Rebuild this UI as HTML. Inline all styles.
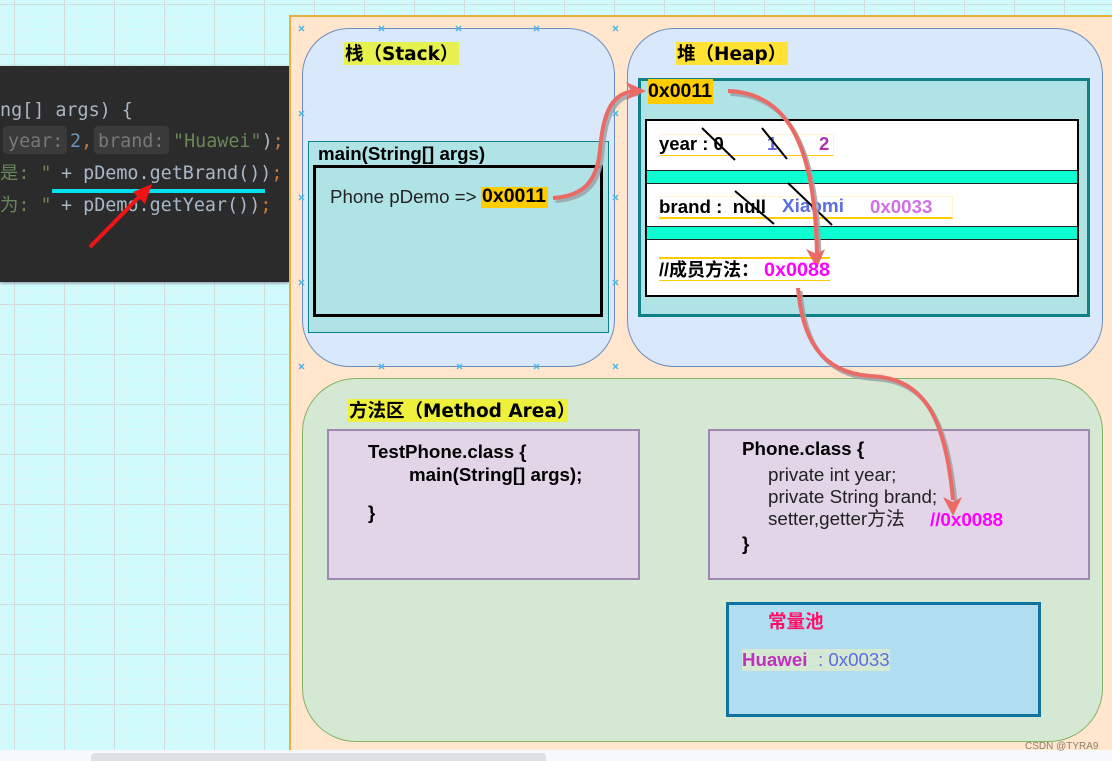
<!DOCTYPE html>
<html><head><meta charset="utf-8"><style>
html,body{margin:0;padding:0;width:1112px;height:761px;overflow:hidden;background:#fff}
#r{position:relative;width:1112px;height:761px;overflow:hidden;font-family:"Liberation Sans","Noto Sans CJK SC",sans-serif;color:#000}
.a{position:absolute;box-sizing:border-box}
.t{position:absolute;white-space:pre;line-height:1}
.b{font-weight:bold}
.h{font-family:"DejaVu Sans","Noto Sans CJK SC",sans-serif;font-weight:bold;font-size:18.5px}
.m{font-family:"DejaVu Sans Mono","Liberation Mono","Noto Sans CJK SC",monospace;font-size:18.4px;color:#a9b7c6}
svg{position:absolute;left:0;top:0}
</style></head><body><div id="r">
<div class="a" style="left:0;top:0;width:1112px;height:750px;background-color:#cffbfc;background-image:linear-gradient(90deg,#d5dadb 1px,transparent 1px),linear-gradient(#d5dadb 1px,transparent 1px),linear-gradient(90deg,#e2f6f7 1px,transparent 1px),linear-gradient(#e2f6f7 1px,transparent 1px);background-size:50px 50px,50px 50px,12.5px 12.5px,12.5px 12.5px;background-position:14px 0,0 4px,1.5px 0,0 4px"></div>

<div class="a" style="left:0;top:66px;width:289px;height:216px;background:#2b2b2b;box-shadow:0 1px 3px #889"></div>
<div class="a" style="left:3px;top:126px;width:64px;height:28px;background:#3a3a3a;border-radius:4px"></div>
<div class="a" style="left:94px;top:126px;width:75px;height:28px;background:#3a3a3a;border-radius:4px"></div>
<div class="t m" style="left:0;top:102px">ng[] args) {</div>
<div class="t m" style="left:8px;top:133px;color:#787878">year:</div>
<div class="t m" style="left:70px;top:133px"><span style="color:#6897bb">2</span><span style="color:#cc7832">,</span></div>
<div class="t m" style="left:98px;top:133px;color:#787878">brand:</div>
<div class="t m" style="left:173px;top:133px"><span style="color:#6a8759">"Huawei"</span>)<span style="color:#cc7832">;</span></div>
<div class="t m" style="left:0;top:165px"><span style="color:#6a8759">是: "</span></div>
<div class="t m" style="left:61px;top:165px">+ pDemo.getBrand())<span style="color:#cc7832">;</span></div>
<div class="t m" style="left:0;top:197px"><span style="color:#6a8759">为: "</span></div>
<div class="t m" style="left:61px;top:197px">+ pDemo.getYear())<span style="color:#cc7832">;</span></div>
<div class="a" style="left:52px;top:189px;width:213px;height:4px;background:#00e0ee"></div>

<div class="a" style="left:289px;top:15px;width:830px;height:740px;background:#ffe6cc;border:2px solid #e8b040"></div>

<div class="a" style="left:302px;top:28px;width:313px;height:339px;background:#dae8fc;border:1px solid #6c8ebf;border-radius:47px"></div>
<div class="a" style="left:627px;top:28px;width:476px;height:339px;background:#dae8fc;border:1px solid #6c8ebf;border-radius:47px"></div>
<div class="a" style="left:302px;top:378px;width:801px;height:364px;background:#d5e8d4;border:1px solid #82b366;border-radius:54px"></div>

<div class="a" style="left:344px;top:42px;width:115px;height:23px;background:#e6f04f"></div>
<div class="t h" style="left:345px;top:46px">栈（Stack）</div>
<div class="a" style="left:676px;top:42px;width:112px;height:23px;background:#ffe234"></div>
<div class="t h" style="left:677px;top:46px">堆（Heap）</div>

<div class="a" style="left:308px;top:141px;width:301px;height:192px;background:#b0e3e6;border:1px solid #0e8088"></div>
<div class="t b" style="left:318px;top:145px;font-size:18.7px">main(String[] args)</div>
<div class="a" style="left:313px;top:165px;width:290px;height:152px;border:3px solid #000"></div>
<div class="t" style="left:330px;top:188px;font-size:18.7px;color:#222">Phone pDemo =&gt; </div>
<div class="a" style="left:481px;top:187px;width:67px;height:21px;background:#ffcc00"></div>
<div class="t b" style="left:482px;top:187px;font-size:19.5px">0x0011</div>

<div class="a" style="left:638px;top:78px;width:452px;height:239px;background:#b0e3e6;border:3px solid #0e8088"></div>
<div class="a" style="left:648px;top:79px;width:65px;height:25px;background:#ffcc00"></div>
<div class="t b" style="left:648px;top:82px;font-size:19.5px">0x0011</div>

<div class="a" style="left:645px;top:119px;width:434px;height:178px;background:#fff;border:2px solid #000"></div>
<div class="a" style="left:646px;top:170px;width:432px;height:14px;background:#0cffd0;border:1px solid #222"></div>
<div class="a" style="left:646px;top:226px;width:432px;height:14px;background:#0cffd0;border:1px solid #222"></div>

<div class="a" style="left:659px;top:134px;width:175px;height:22px;border:1px solid #fff5d0;border-bottom:1px solid #ffcc00"></div>
<div class="a" style="left:659px;top:196px;width:294px;height:23px;border:1px solid #fff5d0;border-bottom:2px solid #ffcc00"></div>
<div class="a" style="left:659px;top:257px;width:171px;height:24px;border-top:2px solid #ffcc00;border-bottom:1px solid #ffcc00"></div>

<div class="t b" style="left:659px;top:135px;font-size:18.5px">year : 0</div>
<div class="t b" style="left:767px;top:135px;font-size:18.5px;color:#6666e0">1</div>
<div class="t b" style="left:819px;top:135px;font-size:18.5px;color:#b030b0">2</div>
<div class="t b" style="left:659px;top:198px;font-size:18.7px">brand :  null</div>
<div class="t b" style="left:782px;top:198px;font-size:18.9px;color:#5b6ee0">Xiaomi</div>
<div class="t b" style="left:870px;top:198px;font-size:18.7px;color:#d070e8">0x0033</div>
<div class="t b" style="left:659px;top:261px;font-size:18px">//成员方法：</div>

<div class="a" style="left:327px;top:429px;width:313px;height:151px;background:#e1d5e7;border:2px solid #9f88b0"></div>
<div class="a" style="left:708px;top:429px;width:382px;height:151px;background:#e1d5e7;border:2px solid #9f88b0"></div>
<div class="a" style="left:348px;top:399px;width:220px;height:23px;background:#eef03c"></div>
<div class="t h" style="left:349px;top:403px">方法区（Method Area）</div>

<div class="t b" style="left:368px;top:443px;font-size:18.7px">TestPhone.class {</div>
<div class="t b" style="left:409px;top:466px;font-size:18.7px">main(String[] args);</div>
<div class="t b" style="left:368px;top:504px;font-size:18.7px">}</div>

<div class="t b" style="left:742px;top:440px;font-size:18.8px">Phone.class {</div>
<div class="t" style="left:768px;top:466px;font-size:18.8px;color:#222">private int year;</div>
<div class="t" style="left:768px;top:488px;font-size:18.8px;color:#222">private String brand;</div>
<div class="t" style="left:768px;top:510px;font-size:18.8px;color:#222">setter,getter方法</div>
<div class="t b" style="left:930px;top:511px;font-size:18.8px;color:#ff00ff">//0x0088</div>
<div class="t b" style="left:742px;top:535px;font-size:18.8px">}</div>

<div class="a" style="left:726px;top:602px;width:315px;height:115px;background:#b1ddf0;border:3px solid #10739e"></div>
<div class="t b" style="left:768px;top:613px;font-size:18.5px;color:#ff0f66">常量池</div>
<div class="a" style="left:742px;top:649px;width:148px;height:22px;background:#d5e8d4"></div>
<div class="t b" style="left:742px;top:651px;font-size:18.7px;color:#c030c0">Huawei</div>
<div class="t" style="left:818px;top:651px;font-size:18.7px;color:#5b6ee0">: 0x0033</div>

<svg width="1112" height="761" viewBox="0 0 1112 761" fill="none">
<g stroke="#4db8e8" stroke-width="1.5">
<path d="M299 26l5 5m0-5l-5 5M379 26l5 5m0-5l-5 5M456 26l5 5m0-5l-5 5M534 26l5 5m0-5l-5 5M613 26l5 5m0-5l-5 5M299 111l5 5m0-5l-5 5M613 111l5 5m0-5l-5 5M299 195l5 5m0-5l-5 5M613 195l5 5m0-5l-5 5M299 280l5 5m0-5l-5 5M613 280l5 5m0-5l-5 5M299 364l5 5m0-5l-5 5M379 364l5 5m0-5l-5 5M457 364l5 5m0-5l-5 5M534 364l5 5m0-5l-5 5M613 364l5 5m0-5l-5 5"/>
</g>
<g stroke="#000" stroke-width="2">
<path d="M702 128L735 160M762 128L787 159M735 191L774 224M788 183L832 225"/>
</g>
<g stroke="#9aa3a8" stroke-width="4" transform="translate(2.5,3)" opacity=".85">
<path d="M553 198C585 196 597 180 600 150C603 112 612 92 636 91"/>
<path d="M728 91C785 93 815 140 817 255"/>
<path d="M798 288C802 335 818 372 870 376C920 378 945 410 953 500"/>
</g>
<g stroke="#ea6b66" stroke-width="4">
<path d="M553 198C585 196 597 180 600 150C603 112 612 92 636 91"/>
<path d="M728 91C785 93 815 140 817 255"/>
<path d="M798 288C802 335 818 372 870 376C920 378 945 410 953 500"/>
</g>
<g fill="#ea6b66">
<path d="M646 91L626 82L631 91L626 100Z"/>
<path d="M817 268L806 249L817 254L825 249Z"/>
<path d="M953 516L943 497L953 502L962 497Z"/>
</g>
<path d="M90 247L140 196" stroke="#f01515" stroke-width="4"/>
<path d="M152 184L133 192L145 204Z" fill="#f01515"/>
</svg>
<div class="t b" style="left:764px;top:261px;font-size:19.8px;color:#ff00ff">0x0088</div>

<div class="a" style="left:0;top:750px;width:1112px;height:11px;background:#f7f8fa"></div>
<div class="a" style="left:91px;top:753px;width:455px;height:8px;background:#dfe0e1;border-radius:4px 4px 0 0"></div>
<div class="t" style="left:1025px;top:742px;font-size:10px;color:#8a8070">CSDN @TYRA9</div>
</div></body></html>
